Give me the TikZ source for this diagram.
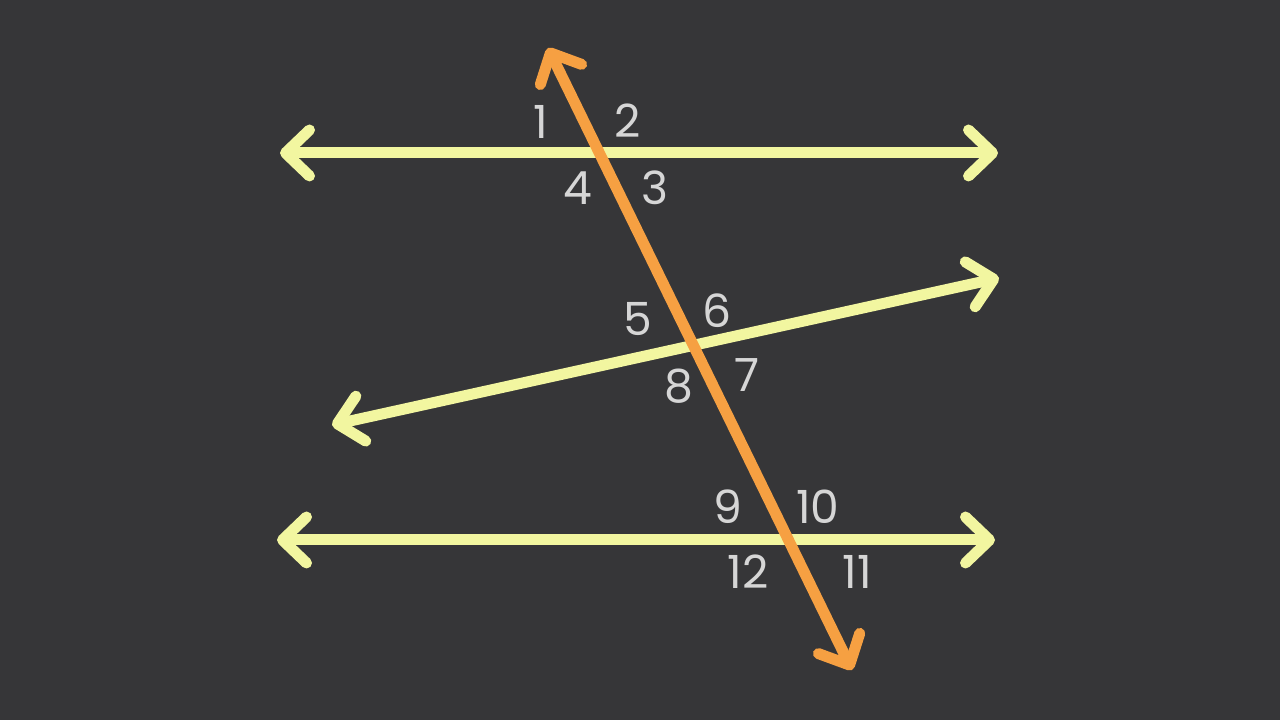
\documentclass[tikz,border=0pt]{standalone}
\usepackage{fontspec}
\setmainfont{Poppins}
\usepackage{xcolor}
\usetikzlibrary{arrows.meta}

\definecolor{board}{RGB}{54,54,56}
\definecolor{chalkyellow}{RGB}{242,246,160}
\definecolor{chalkorange}{RGB}{246,160,66}
\definecolor{chalkwhite}{RGB}{214,214,214}

\tikzset{
  parline/.style = {chalkyellow, line width = 0.11cm, line cap = round,
    {Straight Barb[length = 0.24cm, width = 0.46cm, round]}-{Straight Barb[length = 0.24cm, width = 0.46cm, round]}},
  transline/.style = {chalkorange, line width = 0.11cm, line cap = round,
    {Straight Barb[length = 0.24cm, width = 0.46cm, round]}-{Straight Barb[length = 0.24cm, width = 0.46cm, round]}},
  anglenum/.style = {text = chalkwhite, font = \fontsize{13}{13}\selectfont, inner sep = 0pt}
}

\begin{document}
\begin{tikzpicture}

\fill[board] (0,0) rectangle (12.8,7.2);
\useasboundingbox (0,0) rectangle (12.8,7.2);

% end points of the lines
\coordinate (TL) at (2.80,5.67);
\coordinate (TR) at (9.98,5.67);
\coordinate (ML) at (3.32,2.95);
\coordinate (MR) at (9.99,4.42);
\coordinate (BL) at (2.77,1.80);
\coordinate (BR) at (9.95,1.80);
\coordinate (XT) at (5.48,6.72);
\coordinate (XB) at (8.52,0.50);

\draw[parline] (TL) -- (TR);
\draw[parline] (ML) -- (MR);
\draw[parline] (BL) -- (BR);
\draw[transline] (XB) -- (XT);

% angle numbers
\node[anglenum] (a1) at (5.41,5.98) {1};
\node[anglenum] (a2) at (6.28,5.99) {2};
\node[anglenum] (a3) at (6.55,5.32) {3};
\node[anglenum] (a4) at (5.78,5.32) {4};
\node[anglenum] (a5) at (6.38,4.01) {5};
\node[anglenum] (a6) at (7.17,4.09) {6};
\node[anglenum] (a7) at (7.47,3.45) {7};
\node[anglenum] (a8) at (6.79,3.34) {8};
\node[anglenum] (a9) at (7.28,2.13) {9};
\node[anglenum] (a10) at (8.18,2.13) {10};
\node[anglenum] (a11) at (8.57,1.48) {11};
\node[anglenum] (a12) at (7.48,1.48) {12};

\end{tikzpicture}
\end{document}
